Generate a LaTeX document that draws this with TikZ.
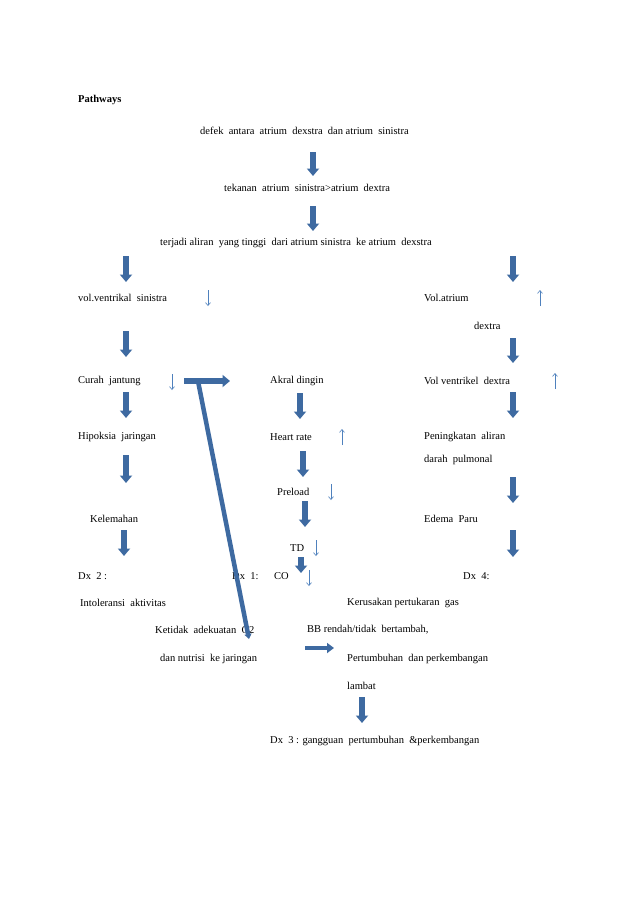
\documentclass[tikz,border=0pt]{standalone}
\usepackage{fontspec}
\setmainfont{Liberation Serif}
\usetikzlibrary{arrows.meta}
\definecolor{bfill}{HTML}{3E6AA1}
\definecolor{thin}{HTML}{4F81BD}
\begin{document}
\begin{tikzpicture}[x=1pt,y=-1pt,
  txt/.style={anchor=west,inner sep=0pt,font=\fontsize{10.5}{12}\selectfont},
  blk/.style={draw=bfill,line width=5.5pt,-{Triangle[width=12pt,length=7.5pt]}},
  thn/.style={draw=thin,line width=0.6pt,-{Straight Barb[length=3pt,width=5pt]}}]
\useasboundingbox (0,0) rectangle (638,903);
\fill[white] (0,0) rectangle (638,903);
\node[txt,font=\fontsize{10.5}{12}\selectfont\bfseries] (pw) at (78,100) {Pathways};
\node[txt] (t1) at (200,131) {defek\ \ antara\ \ atrium\ \ dexstra\ \ dan atrium\ \ sinistra};
\node[txt] (t2) at (224,188) {tekanan\ \ atrium\ \ sinistra>atrium\ \ dextra};
\node[txt] (t3) at (160,243) {terjadi aliran\ \ yang tinggi\ \ dari atrium sinistra\ \ ke atrium\ \ dexstra};
\node[txt] (vvs) at (78,298) {vol.ventrikal\ \ sinistra};
\node[txt] (va) at (424,298) {Vol.atrium};
\node[txt] (vd) at (474,326) {dextra};
\node[txt] (cj) at (78,381) {Curah\ \ jantung};
\node[txt] (ad) at (270,381) {Akral dingin};
\node[txt] (vvd) at (424,381) {Vol ventrikel\ \ dextra};
\node[txt] (hj) at (78,437) {Hipoksia\ \ jaringan};
\node[txt] (hr) at (270,437) {Heart rate};
\node[txt] (pa) at (424,437) {Peningkatan\ \ aliran};
\node[txt] (dp) at (424,460) {darah\ \ pulmonal};
\node[txt] (pl) at (277,492) {Preload};
\node[txt] (kl) at (90,519) {Kelemahan};
\node[txt] (ep) at (424,519) {Edema\ \ Paru};
\node[txt] (td) at (290,548) {TD};
\node[txt] (dx2) at (78,576) {Dx\ \ 2 :};
\node[txt] (dx1) at (232,576) {Dx\ \ 1:};
\node[txt] (co) at (274,576) {CO};
\node[txt] (dx4) at (463,576) {Dx\ \ 4:};
\node[txt] (ia) at (80,603) {Intoleransi\ \ aktivitas};
\node[txt] (kp) at (347,603) {Kerusakan pertukaran\ \ gas};
\node[txt] (ka) at (155,630) {Ketidak\ \ adekuatan\ \ O2};
\node[txt] (bb) at (307,630) {BB rendah/tidak\ \ bertambah,};
\node[txt] (dn) at (160,659) {dan nutrisi\ \ ke jaringan};
\node[txt] (pp) at (347,659) {Pertumbuhan\ \ dan perkembangan};
\node[txt] (lb) at (347,686) {lambat};
\node[txt] (dx3) at (270,741) {Dx\ \ 3 : gangguan\ \ pertumbuhan\ \ \&perkembangan};
% block arrows
\draw[blk] (313,152) -- (313,176);
\draw[blk] (313,206) -- (313,231);
\draw[blk] (126,256) -- (126,282);
\draw[blk] (513,256) -- (513,282);
\draw[blk] (126,331) -- (126,357);
\draw[blk] (513,338) -- (513,363);
\draw[blk] (184,381) -- (230,381);
\draw[blk] (126,392) -- (126,418);
\draw[blk] (300,393) -- (300,419);
\draw[blk] (513,392) -- (513,418);
\draw[blk] (126,455) -- (126,483);
\draw[blk] (303,451) -- (303,477);
\draw[blk] (513,477) -- (513,503);
\draw[blk] (124,530) -- (124,556);
\draw[blk] (305,501) -- (305,527);
\draw[blk] (513,530) -- (513,557);
\draw[blk] (301,557) -- (301,573);
\draw[blk,line width=4pt,-{Triangle[width=10pt,length=7pt]}] (305,648) -- (334,648);
\draw[blk] (362,697) -- (362,723);
\draw[bfill,line width=4.5pt,-{Triangle[width=7pt,length=5pt]}] (198,381) -- (249,639);
% thin arrows
\draw[thn] (208,290) -- (208,306);
\draw[thn] (540,306) -- (540,290);
\draw[thn] (172,374) -- (172,390);
\draw[thn] (555,389) -- (555,373);
\draw[thn] (342,445) -- (342,429);
\draw[thn] (331,484) -- (331,500);
\draw[thn] (316,540) -- (316,556);
\draw[thn] (309,570) -- (309,586);
\end{tikzpicture}
\end{document}
